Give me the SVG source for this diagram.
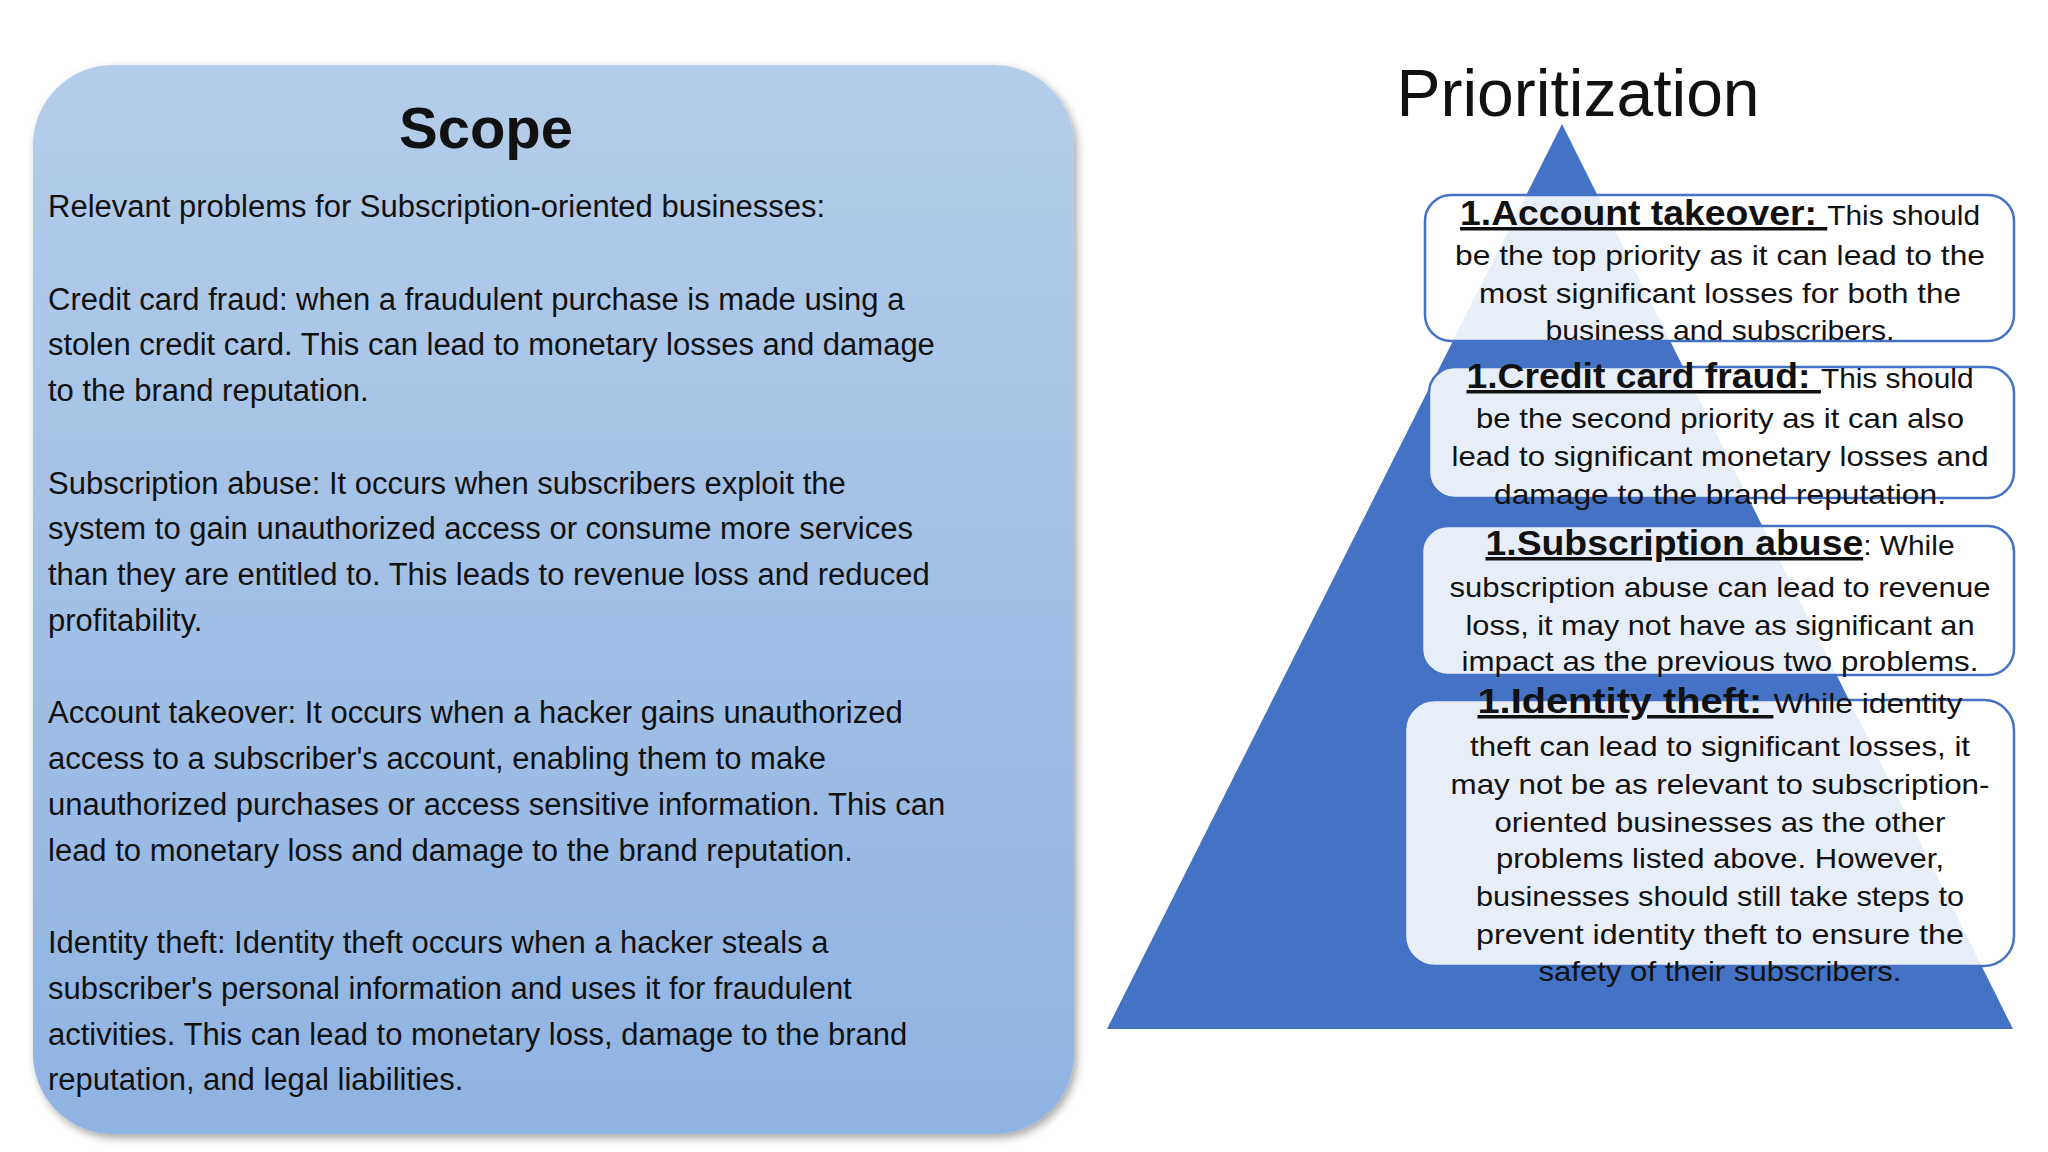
<svg xmlns="http://www.w3.org/2000/svg" width="2048" height="1152" viewBox="0 0 2048 1152">
<defs>
<linearGradient id="pg" x1="0" y1="0" x2="0" y2="1"><stop offset="0" stop-color="#b4cdea"/><stop offset="1" stop-color="#8fb3e2"/></linearGradient>
<filter id="sh" x="-5%" y="-5%" width="110%" height="110%"><feDropShadow dx="3" dy="4" stdDeviation="4" flood-color="#000" flood-opacity="0.35"/></filter>
<style>
.b{font-family:"Liberation Sans",Arial,sans-serif;font-size:31px;fill:#111}
.p{font-family:"Liberation Sans",Arial,sans-serif;font-size:28px;fill:#111;text-anchor:middle}
.h{font-weight:bold;font-size:35px;text-decoration:underline}
.box{fill:#fff;fill-opacity:0.88;stroke:#4472c4;stroke-width:2.5}
</style>
</defs>
<rect width="2048" height="1152" fill="#fff"/>
<g id="scope">
<rect x="33" y="65" width="1041" height="1069" rx="80" fill="url(#pg)" filter="url(#sh)"/>
<text x="486" y="148" text-anchor="middle" font-family="'Liberation Sans',Arial,sans-serif" font-weight="bold" font-size="58" fill="#111">Scope</text>
<text class="b" x="48" y="217">Relevant problems for Subscription-oriented businesses:</text>
<text class="b" x="48" y="310">Credit card fraud: when a fraudulent purchase is made using a</text>
<text class="b" x="48" y="355">stolen credit card. This can lead to monetary losses and damage</text>
<text class="b" x="48" y="401">to the brand reputation.</text>
<text class="b" x="48" y="494">Subscription abuse: It occurs when subscribers exploit the</text>
<text class="b" x="48" y="539">system to gain unauthorized access or consume more services</text>
<text class="b" x="48" y="585">than they are entitled to. This leads to revenue loss and reduced</text>
<text class="b" x="48" y="631">profitability.</text>
<text class="b" x="48" y="723">Account takeover: It occurs when a hacker gains unauthorized</text>
<text class="b" x="48" y="769">access to a subscriber's account, enabling them to make</text>
<text class="b" x="48" y="815">unauthorized purchases or access sensitive information. This can</text>
<text class="b" x="48" y="861">lead to monetary loss and damage to the brand reputation.</text>
<text class="b" x="48" y="953">Identity theft: Identity theft occurs when a hacker steals a</text>
<text class="b" x="48" y="999">subscriber's personal information and uses it for fraudulent</text>
<text class="b" x="48" y="1045">activities. This can lead to monetary loss, damage to the brand</text>
<text class="b" x="48" y="1090">reputation, and legal liabilities.</text>
</g>
<g id="prioritization">
<text x="1578" y="116" text-anchor="middle" font-family="'Liberation Sans',Arial,sans-serif" font-size="66" fill="#111">Prioritization</text>
<polygon points="1562,124 2013,1029 1107,1029" fill="#4472c4"/>
</g>
<g id="p1">
<rect class="box" x="1425" y="195" width="589" height="146" rx="26"/>
<text class="p" x="1720" y="225" textLength="520" lengthAdjust="spacingAndGlyphs"><tspan class="h">1.Account takeover: </tspan>This should</text>
<text class="p" x="1720" y="265" textLength="530" lengthAdjust="spacingAndGlyphs">be the top priority as it can lead to the</text>
<text class="p" x="1720" y="303" textLength="482" lengthAdjust="spacingAndGlyphs">most significant losses for both the</text>
<text class="p" x="1720" y="340" textLength="349" lengthAdjust="spacingAndGlyphs">business and subscribers.</text>
</g>
<g id="p2">
<rect class="box" x="1429" y="367" width="585" height="131" rx="26"/>
<text class="p" x="1720" y="388" textLength="507" lengthAdjust="spacingAndGlyphs"><tspan class="h">1.Credit card fraud: </tspan>This should</text>
<text class="p" x="1720" y="428" textLength="488" lengthAdjust="spacingAndGlyphs">be the second priority as it can also</text>
<text class="p" x="1720" y="466" textLength="537" lengthAdjust="spacingAndGlyphs">lead to significant monetary losses and</text>
<text class="p" x="1720" y="504" textLength="452" lengthAdjust="spacingAndGlyphs">damage to the brand reputation.</text>
</g>
<g id="p3">
<rect class="box" x="1422" y="526" width="592" height="149" rx="26"/>
<text class="p" x="1720" y="555" textLength="469" lengthAdjust="spacingAndGlyphs"><tspan class="h">1.Subscription abuse</tspan>: While</text>
<text class="p" x="1720" y="597" textLength="541" lengthAdjust="spacingAndGlyphs">subscription abuse can lead to revenue</text>
<text class="p" x="1720" y="635" textLength="509" lengthAdjust="spacingAndGlyphs">loss, it may not have as significant an</text>
<text class="p" x="1720" y="671" textLength="517" lengthAdjust="spacingAndGlyphs">impact as the previous two problems.</text>
</g>
<g id="p4">
<rect class="box" x="1405" y="700" width="609" height="266" rx="30"/>
<text class="p" x="1720" y="713" textLength="485" lengthAdjust="spacingAndGlyphs"><tspan class="h">1.Identity theft: </tspan>While identity</text>
<text class="p" x="1720" y="756" textLength="500" lengthAdjust="spacingAndGlyphs">theft can lead to significant losses, it</text>
<text class="p" x="1720" y="794" textLength="539" lengthAdjust="spacingAndGlyphs">may not be as relevant to subscription-</text>
<text class="p" x="1720" y="832" textLength="451" lengthAdjust="spacingAndGlyphs">oriented businesses as the other</text>
<text class="p" x="1720" y="868" textLength="448" lengthAdjust="spacingAndGlyphs">problems listed above. However,</text>
<text class="p" x="1720" y="906" textLength="488" lengthAdjust="spacingAndGlyphs">businesses should still take steps to</text>
<text class="p" x="1720" y="944" textLength="488" lengthAdjust="spacingAndGlyphs">prevent identity theft to ensure the</text>
<text class="p" x="1720" y="981" textLength="363" lengthAdjust="spacingAndGlyphs">safety of their subscribers.</text>
</g>
<g id="connectors"/>
</svg>
